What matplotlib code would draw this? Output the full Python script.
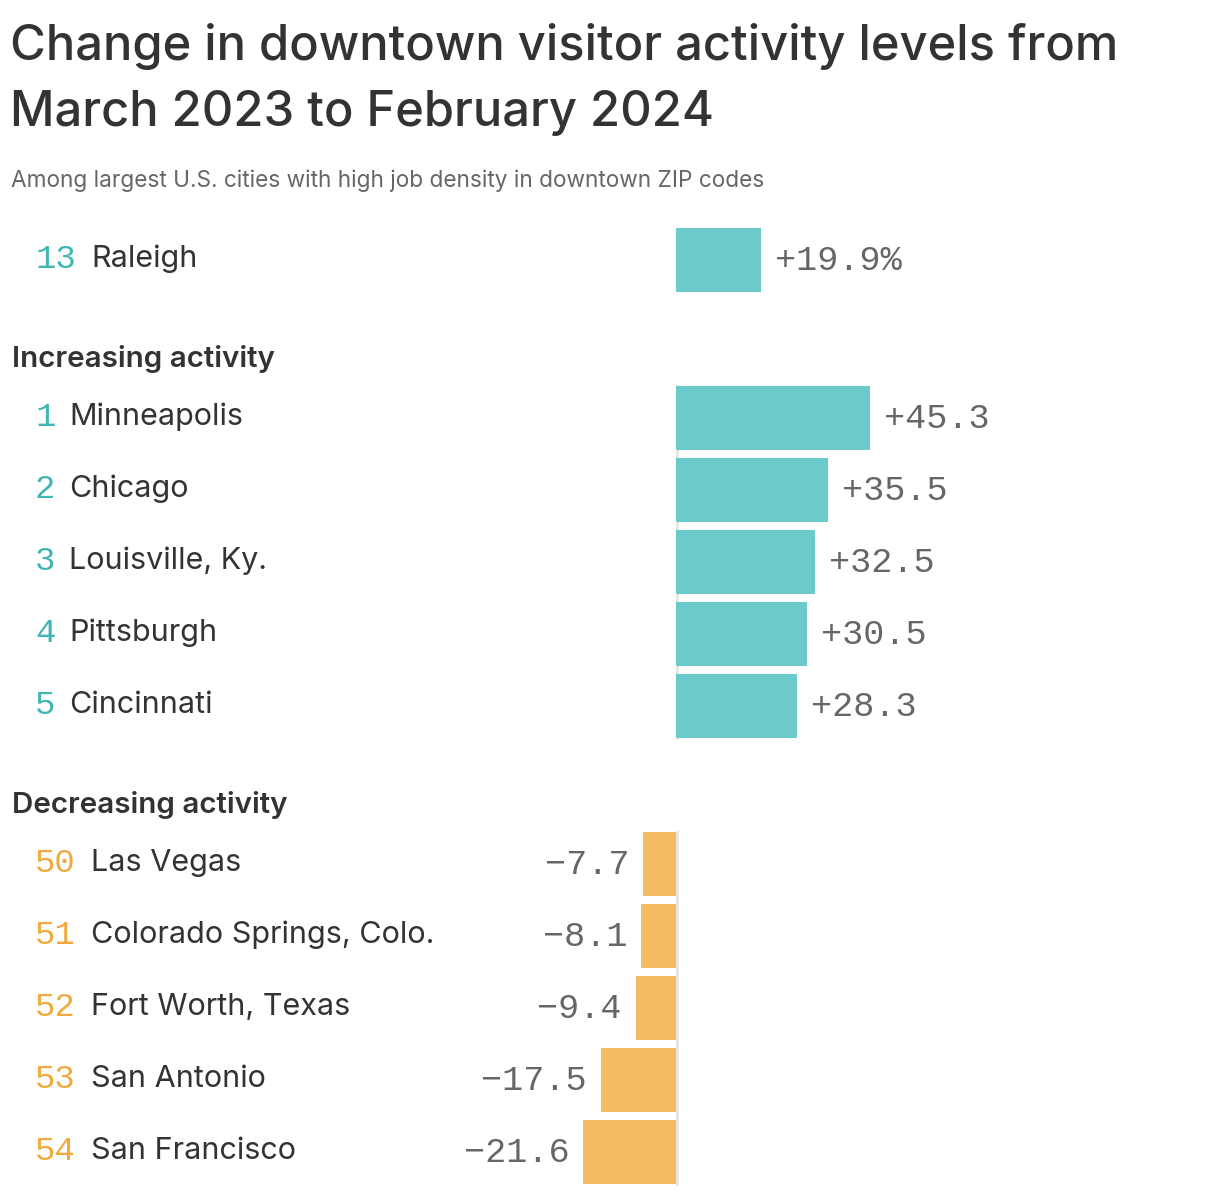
import matplotlib
matplotlib.use("Agg")
import matplotlib.pyplot as plt

# data
top_rank = ["13"]
top_city = ["Raleigh"]
top_value = [19.9]

inc_rank = ["1", "2", "3", "4", "5"]
inc_city = ["Minneapolis", "Chicago", "Louisville, Ky.", "Pittsburgh", "Cincinnati"]
inc_value = [45.3, 35.5, 32.5, 30.5, 28.3]

dec_rank = ["50", "51", "52", "53", "54"]
dec_city = ["Las Vegas", "Colorado Springs, Colo.", "Fort Worth, Texas", "San Antonio", "San Francisco"]
dec_value = [-7.7, -8.1, -9.4, -17.5, -21.6]

W, H = 1220, 1194
TEAL = "#6ccbca"
TEAL_TXT = "#3fb6b1"
ORANGE = "#f4bc62"
ORANGE_TXT = "#f2a93b"
DARK = "#333333"
GREY = "#666666"
SANS = "Inter"
MONO = "Liberation Mono"

fig = plt.figure(figsize=(W / 100, H / 100), dpi=100)
fig.patch.set_facecolor("white")

def fy(px):
    return 1 - px / H

fig.text(10 / W, fy(47), "Change in downtown visitor activity levels from", fontsize=35.2,
         family=SANS, fontweight="medium", color=DARK, va="center", ha="left")
fig.text(10 / W, fy(113), "March 2023 to February 2024", fontsize=35.2,
         family=SANS, fontweight="medium", color=DARK, va="center", ha="left")
fig.text(11 / W, fy(181), "Among largest U.S. cities with high job density in downtown ZIP codes",
         fontsize=16.3, family=SANS, color=GREY, va="center", ha="left")

ax = fig.add_axes([0, 0, 1, 1])
ax.set_facecolor("none")
scale = 4.283  # px per percentage point
zero_px = 676
ax.set_xlim(-zero_px / scale, (W - zero_px) / scale)
ax.set_ylim(H, 0)
ax.axis("off")

def px_to_x(px):
    return px / scale

pitch = 72
bar_h = 64

def draw_group(ranks, cities, values, y0, bar_col, rank_col, pct=False, zero_line=True):
    ys = [y0 + i * pitch for i in range(len(values))]
    ax.barh(ys, values, height=bar_h, color=bar_col, zorder=2)
    if zero_line:
        ax.plot([0.25, 0.25], [ys[0] - bar_h / 2, ys[-1] + bar_h / 2], color="#e3e3e3",
                lw=2, zorder=1)
    xmin = ax.get_xlim()[0]
    for y, r, c, v in zip(ys, ranks, cities, values):
        ax.text(xmin + px_to_x(35), y - 1, r, family=MONO, fontsize=24.5, color=rank_col,
                va="center", ha="left")
        name_px = 69 if len(r) == 1 else 91
        ax.text(xmin + px_to_x(name_px), y - 1, c, family=SANS, fontsize=22, color=DARK,
                va="center", ha="left")
        lab = ("+%.1f" % v) if v > 0 else ("\u2212%.1f" % abs(v))
        if pct:
            lab += "%"
        if v > 0:
            ax.text(v + px_to_x(14), y + 1, lab, family=MONO, fontsize=25.3, color=GREY,
                    va="center", ha="left")
        else:
            ax.text(v - px_to_x(14), y + 1, lab, family=MONO, fontsize=25.3, color=GREY,
                    va="center", ha="right")

draw_group(top_rank, top_city, top_value, 260, TEAL, TEAL_TXT, pct=True, zero_line=False)

xmin = ax.get_xlim()[0]
ax.text(xmin + px_to_x(12), 359, "Increasing activity", family=SANS, fontsize=21.3,
        fontweight="semibold", color=DARK, va="center", ha="left")
draw_group(inc_rank, inc_city, inc_value, 418, TEAL, TEAL_TXT)

ax.text(xmin + px_to_x(12), 805, "Decreasing activity", family=SANS, fontsize=21.3,
        fontweight="semibold", color=DARK, va="center", ha="left")
draw_group(dec_rank, dec_city, dec_value, 864, ORANGE, ORANGE_TXT)

fig.savefig("out.png", dpi=100, facecolor="white")
